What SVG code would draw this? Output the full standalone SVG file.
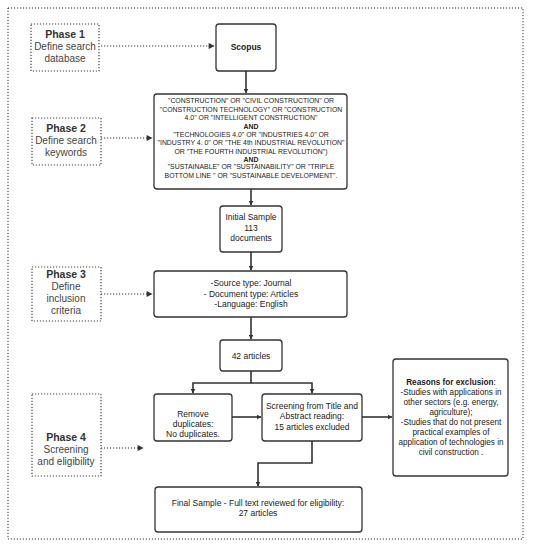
<svg xmlns="http://www.w3.org/2000/svg" width="533" height="550" viewBox="0 0 533 550">
<defs>
<style>
.box{fill:#fff;stroke:#333;stroke-width:1.3}
.phase{fill:#fff;stroke:#444;stroke-width:1.2;stroke-dasharray:1.2 1.8}
.dot{fill:none;stroke:#333;stroke-width:1.2;stroke-dasharray:1.2 1.8}
.ln{fill:none;stroke:#333;stroke-width:1.6}
text{font-family:"Liberation Sans",Arial,sans-serif;fill:#222;text-anchor:middle}
.ph{font-size:10.5px;font-weight:bold;fill:#333}
.pt{font-size:10px;fill:#444}
.kw{font-size:6.9px}
.t{font-size:8.5px}
.s{font-size:8.2px}
.b{font-weight:bold}
</style>
<marker id="ah" viewBox="0 0 10 10" refX="9" refY="5" markerWidth="5" markerHeight="5" orient="auto" markerUnits="userSpaceOnUse"><path d="M0,0 L10,5 L0,10 z" fill="#333"/></marker>
<marker id="ahs" viewBox="0 0 10 10" refX="9" refY="5" markerWidth="7" markerHeight="6" orient="auto" markerUnits="userSpaceOnUse"><path d="M0,0 L10,5 L0,10 z" fill="#333"/></marker>
</defs>
<rect x="8" y="8" width="515" height="531" fill="none" stroke="#333" stroke-width="1" stroke-dasharray="1.2 1.8"/>

<g id="connectors">
<path class="dot" d="M101,46 L214,46" marker-end="url(#ahs)"/>
<path class="dot" d="M101,138 L152,138" marker-end="url(#ahs)"/>
<path class="dot" d="M101,294 L152,294" marker-end="url(#ahs)"/>
<path class="dot" d="M101,448 L143,448" marker-end="url(#ahs)"/>
<path class="ln" d="M246,71 L246,93" marker-end="url(#ah)"/>
<path class="ln" d="M251,189 L251,205" marker-end="url(#ah)"/>
<path class="ln" d="M251,252 L251,270" marker-end="url(#ah)"/>
<path class="ln" d="M251,317 L251,339" marker-end="url(#ah)"/>
<path class="ln" d="M251,371 L251,383 L193,383 L193,393" marker-end="url(#ah)"/>
<path class="ln" d="M251,383 L312,383 L312,393" marker-end="url(#ah)"/>
<path class="ln" d="M232,417 L261,417" marker-end="url(#ah)"/>
<path class="ln" d="M362,417 L392,417" marker-end="url(#ah)"/>
<path class="ln" d="M312,441 L312,463 L258,463 L258,486" marker-end="url(#ah)"/>
</g>

<g id="phase1">
<rect class="phase" x="31" y="24" width="68" height="47"/>
<text class="ph" x="65" y="38">Phase 1</text>
<text class="pt" x="65" y="50">Define search</text>
<text class="pt" x="65" y="62">database</text>
</g>
<g id="phase2">
<rect class="phase" x="32" y="118" width="69" height="47"/>
<text class="ph" x="66" y="132">Phase 2</text>
<text class="pt" x="66" y="144">Define search</text>
<text class="pt" x="66" y="156">keywords</text>
</g>
<g id="phase3">
<rect class="phase" x="32" y="267" width="69" height="54"/>
<text class="ph" x="66" y="278">Phase 3</text>
<text class="pt" x="66" y="290">Define</text>
<text class="pt" x="66" y="302">inclusion</text>
<text class="pt" x="66" y="314">criteria</text>
</g>
<g id="phase4">
<rect class="phase" x="32" y="394" width="69" height="82"/>
<text class="ph" x="66" y="441">Phase 4</text>
<text class="pt" x="66" y="453">Screening</text>
<text class="pt" x="66" y="465">and eligibility</text>
</g>

<g id="scopus">
<rect class="box" x="216" y="24" width="60" height="47" rx="3"/>
<text class="t b" x="246" y="50">Scopus</text>
</g>
<g id="keywords">
<rect class="box" x="154" y="94" width="193" height="95" rx="3"/>
<text class="kw" x="251" y="103">"CONSTRUCTION" OR "CIVIL CONSTRUCTION" OR</text>
<text class="kw" x="251" y="111.5">"CONSTRUCTION TECHNOLOGY" OR "CONSTRUCTION</text>
<text class="kw" x="251" y="120">4.0" OR "INTELLIGENT CONSTRUCTION"</text>
<text class="kw b" x="251" y="128.5">AND</text>
<text class="kw" x="251" y="137">"TECHNOLOGIES 4.0" OR "INDUSTRIES 4.0" OR</text>
<text class="kw" x="251" y="145">"INDUSTRY 4. 0" OR "THE 4th INDUSTRIAL REVOLUTION"</text>
<text class="kw" x="251" y="153.5">OR "THE FOURTH INDUSTRIAL REVOLUTION")</text>
<text class="kw b" x="251" y="161.5">AND</text>
<text class="kw" x="251" y="169">"SUSTAINABLE" OR "SUSTAINABILITY" OR "TRIPLE</text>
<text class="kw" x="251" y="177.5">BOTTOM LINE " OR "SUSTAINABLE DEVELOPMENT".</text>
</g>
<g id="initial">
<rect class="box" x="220" y="206" width="62" height="46" rx="3"/>
<text class="t" x="251" y="220">Initial Sample</text>
<text class="t" x="251" y="230.5">113</text>
<text class="t" x="251" y="241">documents</text>
</g>
<g id="criteria">
<rect class="box" x="154" y="271" width="193" height="46" rx="3"/>
<text class="t" x="251" y="286">-Source type: Journal</text>
<text class="t" x="251" y="296.5">- Document type: Articles</text>
<text class="t" x="251" y="307">-Language: English</text>
</g>
<g id="articles42">
<rect class="box" x="220" y="340" width="62" height="31" rx="3"/>
<text class="t" x="251" y="358.5">42 articles</text>
</g>
<g id="duplicates">
<rect class="box" x="154" y="394" width="78" height="47" rx="3"/>
<text class="t" x="193" y="417">Remove</text>
<text class="t" x="193" y="427">duplicates:</text>
<text class="t" x="193" y="437">No duplicates.</text>
</g>
<g id="screening">
<rect class="box" x="262" y="394" width="100" height="47" rx="3"/>
<text class="t" x="312" y="408.5">Screening from Title and</text>
<text class="t" x="312" y="419">Abstract reading:</text>
<text class="t" x="312" y="429.5">15 articles excluded</text>
</g>
<g id="reasons">
<rect class="box" x="393" y="359" width="115" height="117" rx="3"/>
<text class="s" x="451" y="384.5"><tspan class="b">Reasons for exclusion</tspan>:</text>
<text class="s" x="451" y="394.5">-Studies with applications in</text>
<text class="s" x="451" y="404.5">other sectors (e.g. energy,</text>
<text class="s" x="451" y="414.5">agriculture);</text>
<text class="s" x="451" y="424.5">-Studies that do not present</text>
<text class="s" x="451" y="434.5">practical examples of</text>
<text class="s" x="451" y="444.5">application of technologies in</text>
<text class="s" x="451" y="455">civil construction .</text>
</g>
<g id="final">
<rect class="box" x="155" y="487" width="207" height="45" rx="3"/>
<text class="t" x="258" y="506">Final Sample - Full text reviewed for eligibility:</text>
<text class="t" x="258" y="516">27 articles</text>
</g>
</svg>
